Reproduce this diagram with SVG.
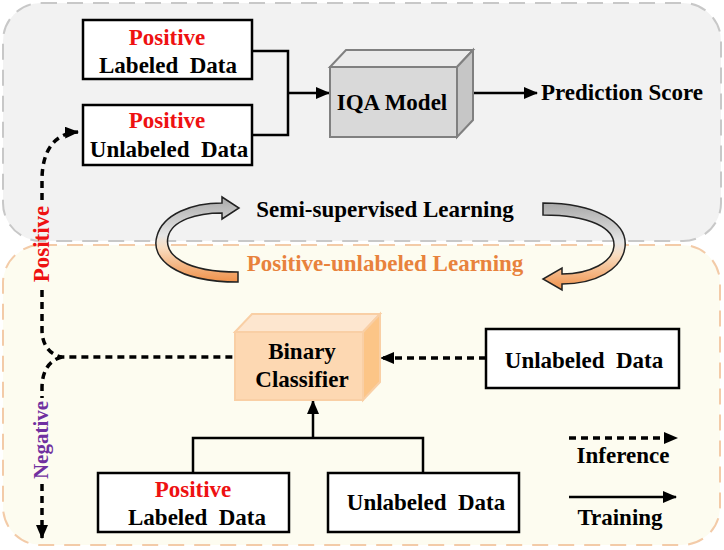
<svg xmlns="http://www.w3.org/2000/svg" width="724" height="550" viewBox="0 0 724 550">
<defs>
<style>
text{font-family:"Liberation Serif","Times New Roman",serif;font-weight:bold;font-size:23px;fill:#000;text-anchor:middle}
.red{fill:#ee1111}
.org{fill:#e8823c}
.pur{fill:#7030a0}
.box{fill:#fff;stroke:#000;stroke-width:2.5}
.ln{fill:none;stroke:#000;stroke-width:2.5}
.dl{fill:none;stroke:#000;stroke-width:3.5;stroke-dasharray:7,5}
</style>
<marker id="ah" markerUnits="userSpaceOnUse" markerWidth="14" markerHeight="12" viewBox="0 0 14 12" refX="13" refY="6" orient="auto">
<path d="M0,0 L14,6 L0,12 z" fill="#000"/>
</marker>
<linearGradient id="g" x1="0" y1="0" x2="0" y2="1">
<stop offset="0" stop-color="#a9a9a9"/>
<stop offset="0.45" stop-color="#e6e6e6"/>
<stop offset="0.6" stop-color="#f8dcc0"/>
<stop offset="1" stop-color="#f0914a"/>
</linearGradient>
</defs>
<g id="panels">
<rect x="3" y="3" width="718" height="238" rx="38" fill="#f2f2f2" stroke="#c8c8c8" stroke-width="2" stroke-dasharray="16,10"/>
<rect x="3" y="245" width="717" height="300" rx="38" fill="#fdfcf0" stroke="#f3cba8" stroke-width="2" stroke-dasharray="16,10"/>
</g>
<g id="connectors">
<path class="ln" d="M252,51 H288 V135 H252"/>
<path class="ln" d="M288,93 H329" marker-end="url(#ah)"/>
<path class="ln" d="M457,93 H537" marker-end="url(#ah)"/>
<path class="dl" d="M42,200 L42,180 C42,150 55,133 78,132" marker-end="url(#ah)"/>
<path class="dl" d="M42,290 L42,330 C42,345 50,355 62,357 L235,357"/>
<path class="dl" d="M62,357 C50,360 42,370 42,388 L42,398"/>
<path class="dl" d="M42,484 L42,538" marker-end="url(#ah)"/>
<path class="dl" d="M486,358 L381,358" marker-end="url(#ah)"/>
<path class="ln" d="M193,473 V438 H423 V473 M313,438 V401" marker-end="url(#ah)"/>
<path class="dl" d="M569,438 L677,438" marker-end="url(#ah)"/>
<path class="ln" d="M569,497 L676,497" marker-end="url(#ah)"/>
</g>
<g id="pos-labeled">
<rect class="box" x="83" y="20" width="169" height="59"/>
<text class="red" x="167" y="45">Positive</text>
<text x="168" y="73" xml:space="preserve">Labeled  Data</text>
</g>
<g id="pos-unlabeled">
<rect class="box" x="83" y="105" width="169" height="60"/>
<text class="red" x="167" y="128">Positive</text>
<text x="169" y="157" xml:space="preserve">Unlabeled  Data</text>
</g>
<g id="iqa-model">
<polygon points="330,67 346,50 473,50 457,67" fill="#ebebeb" stroke="#808080" stroke-width="2"/>
<polygon points="457,67 473,50 473,120 457,137" fill="#c6c6c6" stroke="#808080" stroke-width="2"/>
<rect x="330" y="67" width="127" height="70" fill="#d9d9d9" stroke="#808080" stroke-width="2"/>
<text x="392" y="110">IQA Model</text>
</g>
<g id="prediction">
<text x="622" y="100">Prediction Score</text>
</g>
<g id="learning">
<path d="M238,282 C175,282 150,258 157,236 C163,214 192,203 222,203 L222,197 L239,208 L222,219 L222,213 C197,213 172,220 168,237 C164,255 185,272 238,272 Z" fill="url(#g)" stroke="#222" stroke-width="1.5"/>
<path d="M543,203 C595,203 628,222 625,247 C622,270 595,284 562,284 L562,290 L543,279 L562,268 L562,274 C590,274 613,262 614,246 C615,228 590,215 543,215 Z" fill="url(#g)" stroke="#222" stroke-width="1.5"/>
<text x="385" y="217">Semi-supervised Learning</text>
<text class="org" x="385" y="271">Positive-unlabeled Learning</text>
</g>
<g id="binary-classifier">
<polygon points="235,332 252,314 380,314 363,332" fill="#fde6cf" stroke="#f9cfa5" stroke-width="2"/>
<polygon points="363,332 380,314 380,382 363,400" fill="#fcc587" stroke="#f9cfa5" stroke-width="2"/>
<rect x="235" y="332" width="128" height="68" fill="#fdd8b2" stroke="#f9cfa5" stroke-width="2"/>
<text x="302" y="359">Binary</text>
<text x="302" y="387">Classifier</text>
</g>
<g id="unlabeled-right">
<rect class="box" x="486" y="329" width="193" height="59"/>
<text x="584" y="368" xml:space="preserve">Unlabeled  Data</text>
</g>
<g id="pos-labeled-bottom">
<rect class="box" x="98" y="473" width="191" height="59"/>
<text class="red" x="193" y="497">Positive</text>
<text x="197" y="525" xml:space="preserve">Labeled  Data</text>
</g>
<g id="unlabeled-bottom">
<rect class="box" x="328" y="473" width="191" height="59"/>
<text x="426" y="510" xml:space="preserve">Unlabeled  Data</text>
</g>
<g id="side-labels">
<text class="red" transform="translate(49,244) rotate(-90)" font-size="22">Positive</text>
<text class="pur" transform="translate(48,440) rotate(-90)" style="font-size:21px">Negative</text>
</g>
<g id="legend">
<text x="623" y="463">Inference</text>
<text x="620" y="525">Training</text>
</g>
</svg>
